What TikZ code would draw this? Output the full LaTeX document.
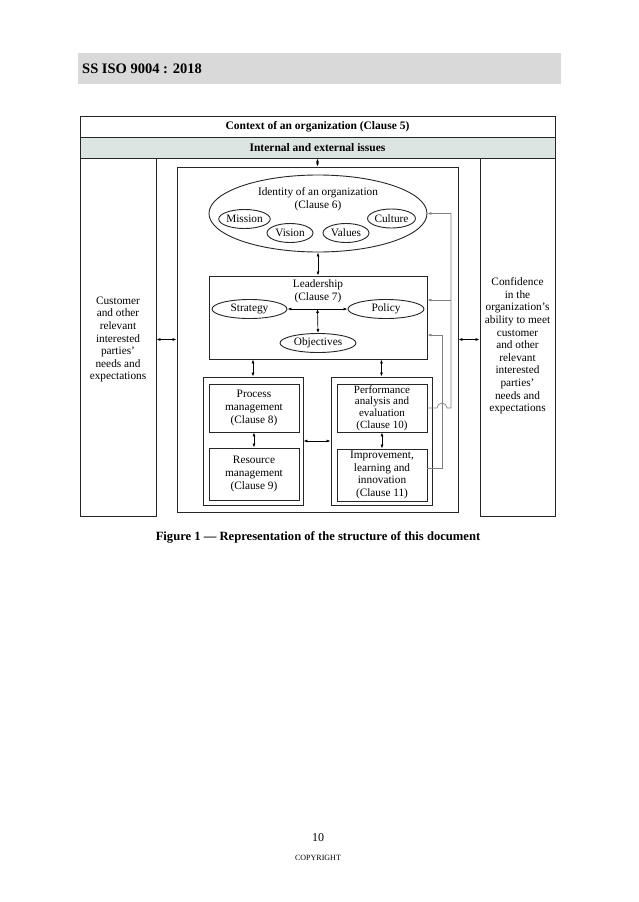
\documentclass[tikz,border=0pt]{standalone}
\usepackage{fontspec}
\setmainfont{Liberation Serif}
\usetikzlibrary{calc,shapes.geometric,arrows.meta}
\definecolor{headgray}{RGB}{217,217,217}
\definecolor{issuegreen}{RGB}{221,229,226}
\tikzset{
  frame/.style={draw=black!85,line width=0.9pt},
  boxtxt/.style={align=center,font=\fontsize{11.3}{12.6}\selectfont,inner sep=0pt},
  titletxt/.style={font=\fontsize{11.5}{13}\selectfont\bfseries},
  oval/.style={frame,ellipse,inner sep=0pt,minimum height=19pt,font=\fontsize{11.3}{12}\selectfont},
  dbl/.style={line width=0.7pt,{Latex[length=4pt,width=3pt]}-{Latex[length=4pt,width=3pt]}},
  fback/.style={draw=black!50,line width=0.7pt,-{Latex[length=4pt,width=3pt]}},
}
\newcommand\DrawBox[6]{
  \node[frame,rectangle,minimum width=#4,minimum height=#5,boxtxt] (#1) at (#2,#3) {#6};
}
\newcommand\DrawOval[5]{
  \node[oval,minimum width=#4] (#1) at (#2,#3) {#5};
}

\begin{document}
\begin{tikzpicture}[x=1pt,y=-1pt]
\useasboundingbox[fill=white] (0,0) rectangle (638,902);
\fill[headgray] (78,53) rectangle (561,84);
\node[anchor=west,inner sep=0pt,font=\fontsize{14.5}{16}\selectfont\bfseries] (head) at (82,69) {SS ISO 9004 : 2018};

\node[frame,minimum width=475,minimum height=21,titletxt] (ctx) at (317.5,126.5) {Context of an organization (Clause 5)};
\node[frame,fill=issuegreen,minimum width=475,minimum height=21,titletxt] (issues) at (317.5,147.5) {Internal and external issues};
\DrawBox{cust}{118}{337}{76}{358}{}
\node[boxtxt] (custtxt) at (118,339.5) {Customer\\and other\\relevant\\interested\\parties'\\needs and\\expectations};
\DrawBox{conf}{517.5}{337}{75}{358}{}
\node[boxtxt] (conftxt) at (517.5,346) {Confidence\\in the\\organization's\\ability to meet\\customer\\and other\\relevant\\interested\\parties'\\needs and\\expectations};
\DrawBox{core}{317.5}{339.5}{281}{345}{}

\node[frame,ellipse,minimum width=218,minimum height=77,inner sep=0pt] (idn) at (318,213.5) {};
\node[boxtxt] (idntxt) at (318,199) {Identity of an organization\\(Clause 6)};
\DrawOval{mis}{244.5}{219}{47}{Mission}
\DrawOval{vis}{290}{233}{46}{Vision}
\DrawOval{val}{346}{233}{46}{Values}
\DrawOval{cul}{391.5}{218.5}{47}{Culture}

\DrawBox{lead}{318}{317.5}{218}{83}{}
\node[boxtxt] (leadtxt) at (318,291.5) {Leadership\\(Clause 7)};
\DrawOval{strat}{249.5}{309}{75}{Strategy}
\DrawOval{pol}{386}{309}{76}{Policy}
\DrawOval{obj}{318}{343}{76}{Objectives}

\DrawBox{grpL}{253}{441}{100}{128}{}
\DrawBox{grpR}{381.5}{441}{101}{128}{}
\DrawBox{proc}{254}{408}{90}{48}{Process\\management\\(Clause 8)}
\DrawBox{res}{254}{474}{90}{52}{Resource\\management\\(Clause 9)}
\node[frame,minimum width=90,minimum height=48,boxtxt,font=\fontsize{11}{11.6}\selectfont] (perf) at (382,408) {Performance\\analysis and\\evaluation\\(Clause 10)};
\DrawBox{impr}{382}{475}{90}{52}{Improvement,\\learning and\\innovation\\(Clause 11)}

\draw[dbl] (issues.south -| core.north) -- (core.north);
\draw[dbl] (idn.south) -- (lead.north);
\draw[dbl] (strat.east) -- (pol.west);
\draw[dbl] ($(strat.east)!0.5!(pol.west)$) -- (obj.north);
\draw[dbl] (grpL.north |- lead.south) -- (grpL.north);
\draw[dbl] (grpR.north |- lead.south) -- (grpR.north);
\draw[dbl] (proc.south) -- (res.north);
\draw[dbl] (perf.south) -- (impr.north);
\draw[dbl] (grpL.east) -- (grpR.west);
\draw[dbl] (cust.east |- core.west) -- (core.west);
\draw[dbl] (core.east) -- (conf.west |- core.east);

\coordinate (hopA) at (437,408);
\coordinate (upA) at (451,408);
\coordinate (upB) at (442,468);
\draw[fback] (perf.east) -- (hopA) arc[start angle=180,end angle=360,radius=5] -- (upA) -- (upA |- idn.east) -- (idn.east);
\draw[fback] (upA |- 0,300) -- (lead.east |- 0,300);
\draw[fback] (impr.east |- upB) -- (upB) -- (upB |- 0,335) -- (lead.east |- 0,335);

\node[font=\fontsize{12.6}{14}\selectfont\bfseries] (cap) at (318,537) {Figure 1 --- Representation of the structure of this document};
\node[font=\fontsize{12}{13}\selectfont] (pnum) at (318,838) {10};
\node[font=\fontsize{8}{10}\selectfont] (copy) at (318,858) {COPYRIGHT};
\end{tikzpicture}
\end{document}
